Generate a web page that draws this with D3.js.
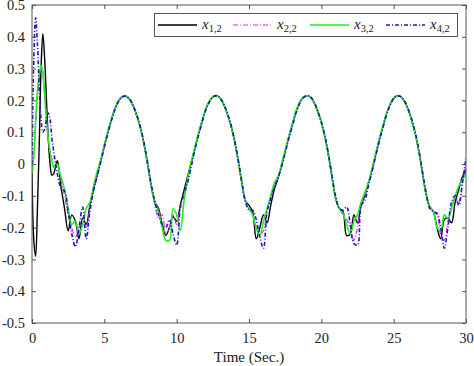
<!DOCTYPE html>
<html>
  <head>
    <meta charset="utf-8">
    <title>x_{i,2} response</title>
    <script src="https://d3js.org/d3.v7.min.js"></script>
  </head>
  <body style="margin:0;background:#fff">
<style>
  svg text { font-family: "Liberation Serif", "Tinos", "DejaVu Serif", serif; }
  .frame { fill: none; stroke: #555; stroke-width: 1; }
  .series { fill: none; }
</style>
<script>

  // time samples (finer during the start-up transient)
  var times = d3.range(0, 2.001, 0.125).concat(d3.range(2.25, 30.001, 0.25));

  // series values
  var x12 = [-0.02, -0.24, -0.29, -0.14, 0.06, 0.3, 0.41, 0.33, 0.20, 0.08, 0.00, -0.035, -0.03, -0.01, 0.01, -0.02, -0.07,
    -0.14, -0.21, -0.16, -0.18, -0.235, -0.17, -0.19, -0.13, -0.08,
    -0.035, 0.01, 0.058, 0.101, 0.141, 0.176, 0.2, 0.212, 0.213, 0.203, 0.182, 0.151, 0.112, 0.061, -0.003, -0.071,
    -0.12, -0.14, -0.19, -0.225, -0.2, -0.165, -0.18, -0.13, -0.085, -0.04,
    0.004, 0.049, 0.093, 0.133, 0.171, 0.196, 0.211, 0.215, 0.207, 0.187, 0.158, 0.121, 0.073, 0.011, -0.058,
    -0.116, -0.13, -0.15, -0.235, -0.2, -0.16, -0.185, -0.13, -0.08,
    -0.045, -0.005, 0.04, 0.085, 0.125, 0.165, 0.193, 0.21, 0.215, 0.21, 0.193, 0.165, 0.13, 0.085, 0.025, -0.045, -0.11,
    -0.14, -0.15, -0.225, -0.22, -0.16, -0.185, -0.13, -0.1, -0.06,
    -0.02, 0.028, 0.076, 0.117, 0.157, 0.187, 0.207, 0.215, 0.211, 0.196, 0.171, 0.137, 0.094, 0.037, -0.031, -0.097,
    -0.134, -0.15, -0.2, -0.235, -0.175, -0.17, -0.185, -0.12, -0.08, -0.04, -0.02];

  var x22 = [-0.02, 0.02, 0.12, 0.21, 0.27, 0.3, 0.28, 0.21, 0.13, 0.07, 0.04, 0.015, -0.005, -0.01, -0.005, -0.02, -0.05,
    -0.1, -0.16, -0.2, -0.23, -0.2, -0.17, -0.2, -0.13, -0.075,
    -0.032, 0.01, 0.056, 0.1, 0.14, 0.175, 0.2, 0.212, 0.213, 0.203, 0.182, 0.151, 0.112, 0.06, -0.005, -0.075,
    -0.13, -0.17, -0.16, -0.22, -0.2, -0.16, -0.19, -0.13, -0.1, -0.045,
    0.0, 0.047, 0.092, 0.132, 0.17, 0.196, 0.211, 0.215, 0.207, 0.187, 0.158, 0.12, 0.072, 0.01, -0.06,
    -0.116, -0.14, -0.16, -0.2, -0.22, -0.21, -0.14, -0.11, -0.07,
    -0.045, -0.006, 0.039, 0.084, 0.124, 0.164, 0.193, 0.21, 0.215, 0.21, 0.193, 0.165, 0.13, 0.084, 0.024, -0.046, -0.11,
    -0.14, -0.16, -0.175, -0.2, -0.24, -0.2, -0.13, -0.1, -0.06,
    -0.015, 0.03, 0.075, 0.116, 0.156, 0.187, 0.207, 0.215, 0.211, 0.196, 0.171, 0.137, 0.094, 0.036, -0.032, -0.098,
    -0.134, -0.15, -0.16, -0.22, -0.24, -0.18, -0.14, -0.11, -0.12, -0.06, 0.0];

  var x32 = [-0.03, 0.03, 0.14, 0.23, 0.28, 0.31, 0.29, 0.22, 0.14, 0.08, 0.04, 0.01, -0.01, -0.005, 0.0, -0.02, -0.04,
    -0.08, -0.14, -0.19, -0.18, -0.22, -0.19, -0.14, -0.12, -0.07,
    -0.025, 0.015, 0.06, 0.104, 0.143, 0.177, 0.201, 0.213, 0.214, 0.204, 0.183, 0.152, 0.113, 0.062, -0.002, -0.07,
    -0.12, -0.15, -0.2, -0.24, -0.24, -0.14, -0.16, -0.21, -0.12, -0.05,
    0.006, 0.051, 0.095, 0.135, 0.172, 0.197, 0.212, 0.215, 0.207, 0.187, 0.158, 0.121, 0.073, 0.012, -0.057,
    -0.116, -0.14, -0.16, -0.2, -0.225, -0.18, -0.14, -0.1, -0.06,
    -0.04, 0.0, 0.043, 0.087, 0.127, 0.166, 0.194, 0.21, 0.215, 0.21, 0.193, 0.165, 0.13, 0.085, 0.025, -0.045, -0.11,
    -0.14, -0.155, -0.19, -0.22, -0.18, -0.16, -0.12, -0.09, -0.06,
    -0.015, 0.032, 0.078, 0.119, 0.158, 0.188, 0.208, 0.215, 0.211, 0.196, 0.171, 0.137, 0.094, 0.037, -0.031, -0.097,
    -0.134, -0.15, -0.2, -0.21, -0.16, -0.17, -0.14, -0.1, -0.07, -0.05, -0.03];

  var x42 = [0.0, 0.33, 0.46, 0.38, 0.24, 0.14, 0.1, 0.11, 0.14, 0.16, 0.14, 0.08, 0.04, 0.0, -0.03, -0.06, -0.075,
    -0.085, -0.15, -0.22, -0.26, -0.2, -0.135, -0.235, -0.15, -0.085,
    -0.04, 0.005, 0.052, 0.097, 0.138, 0.173, 0.198, 0.211, 0.213, 0.204, 0.183, 0.153, 0.115, 0.065, 0.002, -0.066,
    -0.12, -0.16, -0.19, -0.2, -0.175, -0.22, -0.255, -0.14, -0.09, -0.06,
    -0.01, 0.042, 0.088, 0.13, 0.168, 0.194, 0.21, 0.215, 0.208, 0.189, 0.16, 0.124, 0.076, 0.015, -0.055,
    -0.116, -0.145, -0.145, -0.175, -0.23, -0.265, -0.15, -0.11, -0.075,
    -0.045, -0.01, 0.035, 0.08, 0.12, 0.16, 0.19, 0.208, 0.215, 0.211, 0.195, 0.167, 0.133, 0.088, 0.03, -0.04, -0.105,
    -0.14, -0.145, -0.135, -0.19, -0.25, -0.255, -0.13, -0.115, -0.07,
    -0.025, 0.024, 0.07, 0.113, 0.153, 0.184, 0.205, 0.214, 0.212, 0.198, 0.174, 0.14, 0.098, 0.042, -0.026, -0.092,
    -0.14, -0.15, -0.155, -0.2, -0.265, -0.2, -0.12, -0.1, -0.13, -0.06, 0.02];

  var seriesNames = ["1,2", "2,2", "3,2", "4,2"];
  var xTicks = [0, 5, 10, 15, 20, 25, 30];
  var yTicks = [-0.5, -0.4, -0.3, -0.2, -0.1, 0, 0.1, 0.2, 0.3, 0.4, 0.5];
  var xLabel = "Time (Sec.)";

  var w = 474, h = 366,
      margin = {left: 32, right: 8, top: 5, bottom: 43};

  var styles = [
    {color: "#000000", width: 1.4, dash: null},
    {color: "#ee22ee", width: 1.2, dash: "5,2,1,2"},
    {color: "#22ee22", width: 1.6, dash: null},
    {color: "#1a1ab8", width: 1.6, dash: "4,2,1,2"}
  ];

  var svg = d3.select("body").append("svg")
      .attr("width", w)
      .attr("height", h);

  var x = d3.scaleLinear().domain([0, 30]).range([margin.left, w - margin.right]);
  var y = d3.scaleLinear().domain([-0.5, 0.5]).range([h - margin.bottom, margin.top]);

  function tidy(g) {
    g.attr("font-family", null).attr("font-size", 14.5);
    g.select(".domain").remove();
    g.selectAll("line").attr("stroke", "#555");
    g.selectAll("text").attr("fill", "#222");
  }

  // axes, ticks pointing inward like matlab
  svg.append("g")
      .attr("transform", "translate(0," + y(-0.5) + ")")
      .call(d3.axisBottom(x).tickValues(xTicks).tickSize(-4).tickPadding(10).tickFormat(d3.format("d")))
      .call(tidy);
  svg.append("g")
      .attr("transform", "translate(0," + y(0.5) + ")")
      .call(d3.axisTop(x).tickValues(xTicks).tickSize(-4).tickFormat(""))
      .call(tidy);
  svg.append("g")
      .attr("transform", "translate(" + x(0) + ",0)")
      .call(d3.axisLeft(y).tickValues(yTicks).tickSize(-4).tickPadding(7)
        .tickFormat(function(d) { return d === 0 ? "0" : d3.format(".1f")(d).replace("\u2212", "-"); }))
      .call(tidy);
  svg.append("g")
      .attr("transform", "translate(" + x(30) + ",0)")
      .call(d3.axisRight(y).tickValues(yTicks).tickSize(-4).tickFormat(""))
      .call(tidy);

  svg.append("text")
      .attr("x", (x(0) + x(30)) / 2)
      .attr("y", 362)
      .attr("text-anchor", "middle")
      .attr("font-size", 15)
      .attr("fill", "#222")
      .text(xLabel);

  // the curves
  var data = [x12, x22, x32, x42];
  var line = d3.line()
      .x(function(d, i) { return x(times[i]); })
      .y(function(d) { return y(d); })
      .curve(d3.curveCatmullRom);

  svg.append("defs").append("clipPath").attr("id", "clip")
    .append("rect")
      .attr("x", x(0)).attr("y", y(0.5))
      .attr("width", x(30) - x(0)).attr("height", y(-0.5) - y(0.5));

  svg.append("g")
      .attr("clip-path", "url(#clip)")
      .selectAll("path")
      .data(data)
    .enter()
      .append("path")
      .attr("class", "series")
      .attr("d", line)
      .attr("stroke", function(d, i) { return styles[i].color; })
      .attr("stroke-width", function(d, i) { return styles[i].width; })
      .attr("stroke-dasharray", function(d, i) { return styles[i].dash; });

  svg.append("rect")
      .attr("class", "frame")
      .attr("x", x(0)).attr("y", y(0.5))
      .attr("width", x(30) - x(0)).attr("height", y(-0.5) - y(0.5));

  // legend
  var legend = svg.append("g");
  legend.append("rect")
      .attr("x", 154.5).attr("y", 13.5)
      .attr("width", 303).attr("height", 23)
      .attr("fill", "#fff")
      .attr("stroke", "#555");

  var legendX = [158, 233, 310, 386];
  var item = legend.selectAll("g.item")
      .data(seriesNames)
    .enter()
      .append("g")
      .attr("class", "item")
      .attr("transform", function(d, i) { return "translate(" + legendX[i] + ",25)"; });

  item.append("line")
      .attr("x1", 0).attr("x2", 39)
      .attr("stroke", function(d, i) { return styles[i].color; })
      .attr("stroke-width", function(d, i) { return styles[i].width; })
      .attr("stroke-dasharray", function(d, i) { return styles[i].dash; });

  var lbl = item.append("text")
      .attr("x", 44)
      .attr("y", 4)
      .attr("font-size", 15)
      .attr("fill", "#222");
  lbl.append("tspan").attr("font-style", "italic").text("x");
  lbl.append("tspan").attr("font-size", 10.5).attr("dy", 3).text(function(d) { return d; });

</script>
  </body>
</html>
